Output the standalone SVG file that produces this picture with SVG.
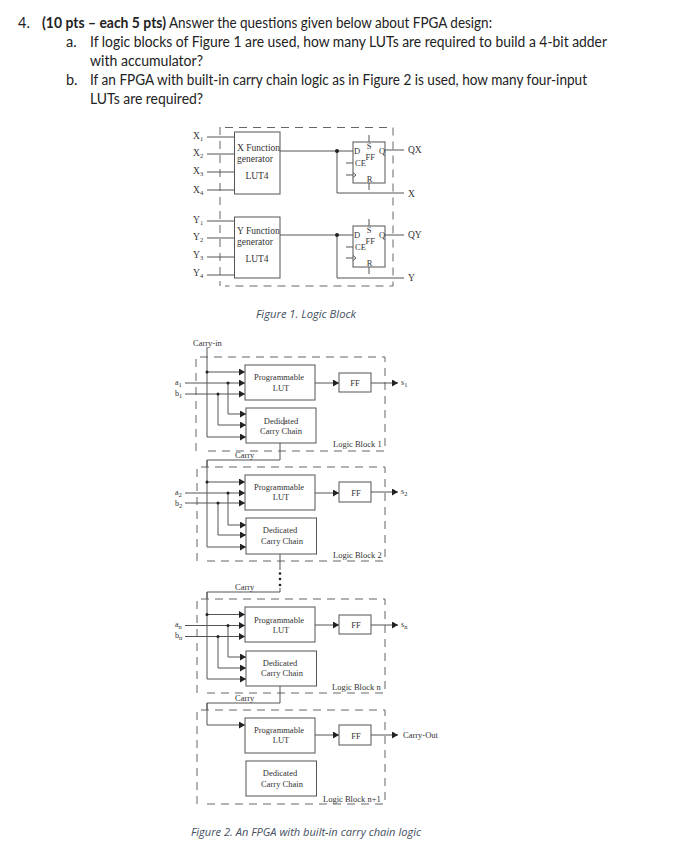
<svg xmlns="http://www.w3.org/2000/svg" width="676" height="847" viewBox="0 0 676 847">
<style>
.q{font-family:Lato,"Liberation Sans",sans-serif;font-size:14.5px;fill:#222}
.b{font-weight:700}
.s{font-family:"Liberation Serif",serif;font-size:8.5px;fill:#333}
.l{font-family:"Liberation Serif",serif;font-size:9.5px;fill:#333}
.t{font-family:"Liberation Serif",serif;font-size:8px;fill:#333}
.m{text-anchor:middle}
.sub{font-size:6.5px}
.cap{font-family:"Open Sans",sans-serif;font-style:italic;font-size:10.5px;fill:#44505f}
.box{fill:#fff;stroke:#555;stroke-width:1}
.ff{fill:none;stroke:#555;stroke-width:1}
.dash{fill:none;stroke:#666;stroke-width:1;stroke-dasharray:8 6}
.w{fill:none;stroke:#555;stroke-width:1}
.a{fill:none;stroke:#555;stroke-width:1;marker-end:url(#ah)}
.d{fill:#222}
</style>
<defs>
<marker id="ah" markerUnits="userSpaceOnUse" markerWidth="6" markerHeight="7" refX="6" refY="3.5" orient="auto"><path d="M0 0L6 3.5L0 7Z" fill="#222"/></marker>
</defs>
<rect width="676" height="847" fill="#fff"/>
<g id="question">
<text class="q" x="18" y="27.5">4.</text>
<text class="q b" x="42" y="27.5" textLength="124" lengthAdjust="spacingAndGlyphs">(10 pts – each 5 pts)</text>
<text class="q" x="169" y="27.5" textLength="323" lengthAdjust="spacingAndGlyphs">Answer the questions given below about FPGA design:</text>
<text class="q" x="66" y="46.5">a.</text>
<text class="q" x="90" y="46.5" textLength="517" lengthAdjust="spacingAndGlyphs">If logic blocks of Figure 1 are used, how many LUTs are required to build a 4-bit adder</text>
<text class="q" x="90" y="66" textLength="113" lengthAdjust="spacingAndGlyphs">with accumulator?</text>
<text class="q" x="66" y="85">b.</text>
<text class="q" x="90" y="85" textLength="497" lengthAdjust="spacingAndGlyphs">If an FPGA with built-in carry chain logic as in Figure 2 is used, how many four-input</text>
<text class="q" x="90" y="104" textLength="113" lengthAdjust="spacingAndGlyphs">LUTs are required?</text>
</g>
<g id="connectors">
<path class="dash" d="M225 127.5H393V286H225M220 127V286"/>
<path class="w" d="M207 137H234.5M207 154H234.5M207 172H234.5M207 190H234.5M207 221H234.5M207 238H234.5M207 257H234.5M207 275H234.5"/>
<path class="w" d="M280 151H353M337 151V193H404M385 150H404M369 135V142M369 183V190M346 163H353M346 175H353"/>
<path class="w" d="M280 235H353M337 235V278H404M385 235H404M369 219V226M369 267V274M346 247H353M346 258H353"/>
<path class="w" d="M353 172.500L356 175L353 177.500M353 255.500L356 258L353 260.500"/>
<circle class="d" cx="337" cy="151" r="2"/><circle class="d" cx="337" cy="235" r="2"/>

<path class="dash" d="M196 451V357H385V451H203"/>
<path class="w" d="M207 347V437"/>
<path class="a" d="M207 372H245"/><path class="a" d="M185 383H245"/><path class="a" d="M185 394H245"/>
<path class="a" d="M228 383V414H246"/><path class="a" d="M218 394V425H246"/><path class="a" d="M207 437H246"/>
<path class="a" d="M315 383H339"/><path class="a" d="M371 383H398"/>
<path class="w" d="M280 443V460H207V467M284 417V425"/>

<path class="dash" d="M197 561V467H385V561H205"/>
<path class="w" d="M207 460V547"/>
<path class="a" d="M207 482H245"/><path class="a" d="M185 493H245"/><path class="a" d="M185 503H245"/>
<path class="a" d="M228 493V525H246"/><path class="a" d="M218 503V535H246"/><path class="a" d="M207 547H246"/>
<path class="a" d="M315 493H339"/><path class="a" d="M371 492H398"/>
<path class="w" d="M280 554V570M280 588V592H207V599"/>
<circle class="d" cx="280" cy="573.500" r="1.300"/><circle class="d" cx="280" cy="579" r="1.300"/><circle class="d" cx="280" cy="585" r="1.300"/>

<path class="dash" d="M197 693V599H385V693H205"/>
<path class="w" d="M207 592V679"/>
<path class="a" d="M207 614.500H245"/><path class="a" d="M185 625.500H245"/><path class="a" d="M185 636.500H245"/>
<path class="a" d="M228 625.500V657H246"/><path class="a" d="M218 636.500V668H246"/><path class="a" d="M207 679H246"/>
<path class="a" d="M315 625H339"/><path class="a" d="M371 625H398"/>
<path class="w" d="M280 686V703H207V710"/>

<path class="dash" d="M197 804V710H385V804H205"/>
<path class="a" d="M207 703V725H245"/>
<path class="a" d="M315 735H339"/><path class="a" d="M371 735H398"/>

<g class="d">
<circle cx="207" cy="372" r="1.500"/><circle cx="228" cy="383" r="1.500"/><circle cx="218" cy="394" r="1.500"/>
<circle cx="207" cy="482" r="1.500"/><circle cx="228" cy="493" r="1.500"/><circle cx="218" cy="503" r="1.500"/>
<circle cx="207" cy="614.500" r="1.500"/><circle cx="228" cy="625.500" r="1.500"/><circle cx="218" cy="636.500" r="1.500"/>
</g>
</g>
<g id="x-lut"><rect class="ff" x="234.500" y="132" width="45.500" height="62"/>
<text class="l" x="237" y="150.500">X Function</text><text class="l" x="237" y="161.500">generator</text><text class="l m" x="257" y="179">LUT4</text></g>
<g id="y-lut"><rect class="ff" x="234.500" y="217" width="45.500" height="61"/>
<text class="l" x="237" y="234">Y Function</text><text class="l" x="237" y="245">generator</text><text class="l m" x="257" y="262">LUT4</text></g>
<g id="x-ff"><rect class="ff" x="353" y="142" width="32" height="41"/>
<text class="s" x="354" y="154">D</text><text class="s m" x="369" y="149">S</text><text class="s" x="365.500" y="160">FF</text><text class="s" x="379" y="154">Q</text><text class="s" x="355" y="166">CE</text><text class="s m" x="369.500" y="182">R</text></g>
<g id="y-ff"><rect class="ff" x="353" y="226" width="32" height="41"/>
<text class="s" x="354" y="238">D</text><text class="s m" x="369" y="233">S</text><text class="s" x="365.500" y="244">FF</text><text class="s" x="379" y="238">Q</text><text class="s" x="355" y="250">CE</text><text class="s m" x="369.500" y="266">R</text></g>
<g id="fig1-labels">
<text class="l" x="193" y="139">X<tspan class="sub" dy="2">1</tspan></text>
<text class="l" x="193" y="156">X<tspan class="sub" dy="2">2</tspan></text>
<text class="l" x="193" y="174">X<tspan class="sub" dy="2">3</tspan></text>
<text class="l" x="193" y="193">X<tspan class="sub" dy="2">4</tspan></text>
<text class="l" x="193" y="223">Y<tspan class="sub" dy="2">1</tspan></text>
<text class="l" x="193" y="240">Y<tspan class="sub" dy="2">2</tspan></text>
<text class="l" x="193" y="258">Y<tspan class="sub" dy="2">3</tspan></text>
<text class="l" x="193" y="276">Y<tspan class="sub" dy="2">4</tspan></text>
<text class="l" x="408" y="153">QX</text><text class="l" x="408" y="197">X</text>
<text class="l" x="408" y="238">QY</text><text class="l" x="408" y="281">Y</text>
<text class="cap" x="256" y="318" textLength="100" lengthAdjust="spacingAndGlyphs">Figure 1. Logic Block</text>
</g>
<g id="block1"><rect class="ff" x="245" y="365" width="70" height="35"/><text class="s m" x="279" y="380">Programmable</text><text class="s m" x="281" y="391">LUT</text>
<rect class="ff" x="246" y="408" width="70" height="35"/><text class="s m" x="281" y="424">Dedicated</text><text class="s m" x="281" y="434">Carry Chain</text>
<rect class="ff" x="339" y="373" width="32" height="19"/><text class="s m" x="355" y="386">FF</text>
<text class="s" x="333" y="447">Logic Block 1</text></g>
<g id="block2"><rect class="ff" x="245" y="475" width="70" height="35"/><text class="s m" x="279" y="490">Programmable</text><text class="s m" x="281" y="500">LUT</text>
<rect class="ff" x="246" y="518" width="70.500" height="36"/><text class="s m" x="280" y="533">Dedicated</text><text class="s m" x="282" y="544">Carry Chain</text>
<rect class="ff" x="339" y="482" width="32" height="20"/><text class="s m" x="356" y="496">FF</text>
<text class="s" x="333" y="558">Logic Block 2</text></g>
<g id="blockn"><rect class="ff" x="245" y="607" width="70" height="35"/><text class="s m" x="279" y="623">Programmable</text><text class="s m" x="281" y="633">LUT</text>
<rect class="ff" x="246" y="651" width="70.500" height="35"/><text class="s m" x="280" y="666">Dedicated</text><text class="s m" x="282" y="676">Carry Chain</text>
<rect class="ff" x="339" y="615" width="32" height="19"/><text class="s m" x="356" y="628">FF</text>
<text class="s" x="332" y="690">Logic Block n</text></g>
<g id="blockn1"><rect class="ff" x="245" y="718" width="70" height="35"/><text class="s m" x="279" y="733">Programmable</text><text class="s m" x="281" y="743">LUT</text>
<rect class="ff" x="246" y="761" width="70.500" height="35"/><text class="s m" x="280" y="776">Dedicated</text><text class="s m" x="282" y="787">Carry Chain</text>
<rect class="ff" x="339" y="725" width="32" height="20"/><text class="s m" x="356" y="739">FF</text>
<text class="s" x="323" y="802">Logic Block n+1</text></g>
<g id="fig2-labels">
<text class="s" x="193" y="346">Carry-in</text>
<text class="s" x="235" y="458">Carry</text><text class="s" x="235" y="590">Carry</text><text class="s" x="235" y="701">Carry</text>
<text class="t" x="175" y="385">a<tspan class="sub" dy="1.500">1</tspan></text>
<text class="t" x="175" y="396">b<tspan class="sub" dy="1.500">1</tspan></text>
<text class="t" x="175" y="495">a<tspan class="sub" dy="1.500">2</tspan></text>
<text class="t" x="175" y="506">b<tspan class="sub" dy="1.500">2</tspan></text>
<text class="t" x="175" y="627">a<tspan class="sub" dy="1.500">n</tspan></text>
<text class="t" x="175" y="638">b<tspan class="sub" dy="1.500">n</tspan></text>
<text class="t" x="401" y="385">s<tspan class="sub" dy="1.500">1</tspan></text>
<text class="t" x="401" y="494">s<tspan class="sub" dy="1.500">2</tspan></text>
<text class="t" x="401" y="627">s<tspan class="sub" dy="1.500">n</tspan></text>
<text class="s" x="403" y="738">Carry-Out</text>
<text class="cap" x="191" y="836" textLength="230" lengthAdjust="spacingAndGlyphs">Figure 2. An FPGA with built-in carry chain logic</text>
</g>
</svg>
